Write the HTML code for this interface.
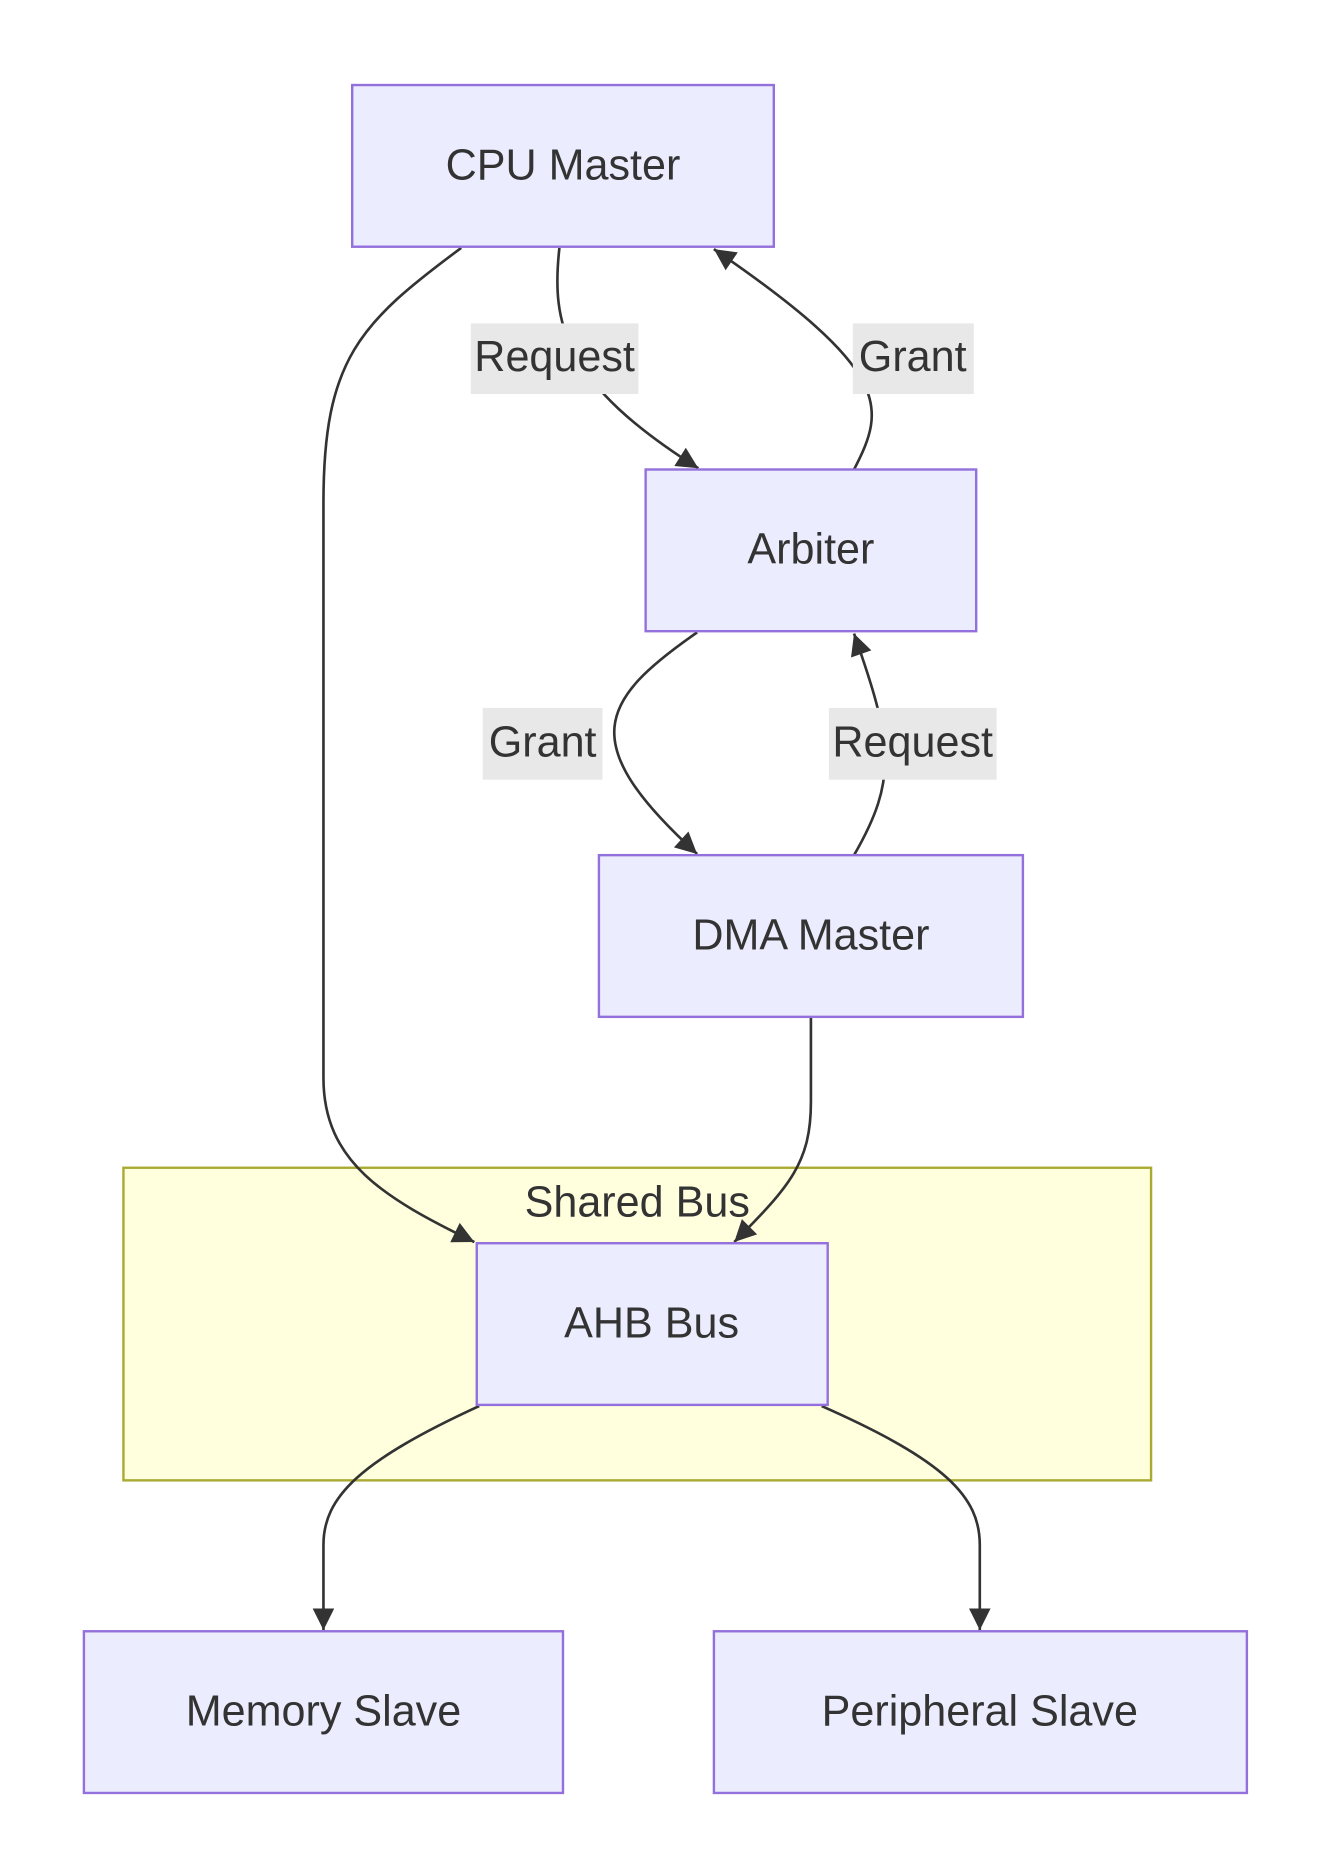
<!DOCTYPE html>
<html><head><meta charset="utf-8"><style>
html,body{margin:0;padding:0;background:#fff;}
svg{display:block;}
text{font-family:"Liberation Sans","DejaVu Sans",sans-serif;fill:#333;font-size:36px;text-anchor:middle;dominant-baseline:central;}
.n{fill:#ECECFF;stroke:#9370DB;stroke-width:2;}
.e{fill:none;stroke:#333;stroke-width:2.2;}
.lb{fill:#e8e8e8;}
</style></head><body>
<svg width="1326" height="1872" viewBox="0 0 1107 1563" xmlns="http://www.w3.org/2000/svg">
<defs><marker id="a" viewBox="0 0 10 10" refX="9" refY="5" markerWidth="8" markerHeight="8" orient="auto-start-reverse" markerUnits="userSpaceOnUse"><path d="M0,0 L10,5 L0,10 z" fill="#333" transform="scale(2.2) translate(-5.5,-2.7)"/></marker>
<marker id="m" viewBox="-2 -10 22 20" refX="18" refY="0" markerWidth="22" markerHeight="20" orient="auto" markerUnits="userSpaceOnUse"><path d="M0,-9 L18,0 L0,9 z" fill="#333"/></marker></defs>
<rect x="103" y="975" width="858" height="261" fill="#FFFFDE" stroke="#AAAA33" stroke-width="2"/>
<text x="532" y="1004">Shared Bus</text>
<path class="e" marker-end="url(#m)" d="M385,207 C300,270 270,300 270,420 L270,900 C270,970 320,1000 396,1037"/>
<path class="e" marker-end="url(#m)" d="M467,207 C460,270 470,320 583,391"/>
<path class="e" marker-end="url(#m)" d="M713,392 C740,340 745,310 596,208"/>
<path class="e" marker-end="url(#m)" d="M582,528 C500,585 480,620 582,713"/>
<path class="e" marker-end="url(#m)" d="M713,714 C750,650 745,620 713,529"/>
<path class="e" marker-end="url(#m)" d="M677,850 L677,920 C677,970 660,990 613,1037"/>
<path class="e" marker-end="url(#m)" d="M400,1174 C300,1220 270,1250 270,1290 L270,1361"/>
<path class="e" marker-end="url(#m)" d="M686,1174 C790,1220 818,1250 818,1290 L818,1361"/>
<rect class="lb" x="393" y="270" width="140" height="59"/><text x="463" y="298">Request</text>
<rect class="lb" x="712" y="270" width="101" height="59"/><text x="762" y="298">Grant</text>
<rect class="lb" x="403" y="591" width="100" height="60"/><text x="453" y="620">Grant</text>
<rect class="lb" x="692" y="591" width="140" height="60"/><text x="762" y="620">Request</text>
<rect class="n" x="294" y="71" width="352" height="135"/><text x="470" y="138">CPU Master</text>
<rect class="n" x="539" y="392" width="276" height="135"/><text x="677" y="459">Arbiter</text>
<rect class="n" x="500" y="714" width="354" height="135"/><text x="677" y="781">DMA Master</text>
<rect class="n" x="398" y="1038" width="293" height="135"/><text x="544" y="1105">AHB Bus</text>
<rect class="n" x="70" y="1362" width="400" height="135"/><text x="270" y="1429">Memory Slave</text>
<rect class="n" x="596" y="1362" width="445" height="135"/><text x="818" y="1429">Peripheral Slave</text>
</svg>
</body></html>
